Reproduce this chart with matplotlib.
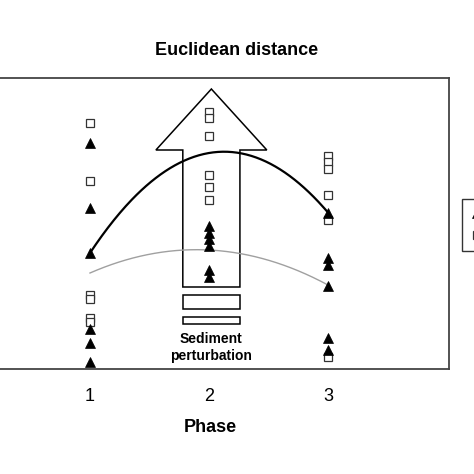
import matplotlib
matplotlib.use("Agg")
import matplotlib.pyplot as plt
import numpy as np
from matplotlib.patches import Polygon, Rectangle

plt.rcParams['font.family'] = ['Liberation Sans', 'DejaVu Sans']

# ---- data ----
phases = [1, 2, 3]
phase_labels = ["1", "2", "3"]

sq_phase1 = [24.6, 18.8, 7.4, 7.0, 5.1, 4.7]
sq_phase2 = [25.75, 25.1, 23.35, 19.4, 18.2, 16.9]
sq_phase3 = [21.35, 20.7, 20.0, 17.4, 14.9, 1.25]

tri_phase1 = [22.6, 16.1, 11.6, 4.0, 2.6, 0.7]
tri_phase2 = [14.3, 13.65, 13.0, 12.35, 9.9, 9.25]
tri_phase3 = [15.65, 11.1, 10.45, 8.3, 3.15, 1.95]

black_curve = [11.6, 21.6, 15.65]
gray_curve = [9.6, 11.9, 8.4]

# legend labels are cropped away in the reference picture
legend_labels = [" ", " "]

# ---- figure ----
W = H = 474
fig = plt.figure(figsize=(4.74, 4.74), dpi=100)
fig.patch.set_facecolor('white')

# axes box (left edge lies outside the cropped picture)
left_px, right_px, top_px, bot_px = -29, 449, 78, 369
ax = fig.add_axes([left_px / W, 1 - bot_px / H, (right_px - left_px) / W, (bot_px - top_px) / H])
ax.set_xlim(0, 4.017)
ax.set_ylim(0, 29.1)

frame_col = '#444444'
for s in ['top', 'bottom', 'right', 'left']:
    ax.spines[s].set_color(frame_col)
    ax.spines[s].set_linewidth(1.3)

ax.set_yticks([])
ax.set_xticks(phases)
ax.set_xticklabels(phase_labels, fontsize=13)
ax.tick_params(axis='x', length=0, pad=14)
ax.set_xlabel("Phase", fontsize=13, fontweight='bold', labelpad=10)

# big arrow
cx = 2.02
shaft_half = 0.24
head_half = 0.466
arrow_pts = [
    (cx - shaft_half, 8.2), (cx + shaft_half, 8.2),
    (cx + shaft_half, 21.9), (cx + head_half, 21.9),
    (cx, 28.0),
    (cx - head_half, 21.9), (cx - shaft_half, 21.9),
]
ax.add_patch(Polygon(arrow_pts, closed=True, facecolor='white', edgecolor='black', lw=1.1, zorder=1))
ax.add_patch(Rectangle((cx - shaft_half, 6.0), 2 * shaft_half, 1.4, facecolor='white', edgecolor='black', lw=1.1, zorder=1))
ax.add_patch(Rectangle((cx - shaft_half, 4.5), 2 * shaft_half, 0.75, facecolor='white', edgecolor='black', lw=1.1, zorder=1))
ax.text(cx, 2.15, "Sediment\nperturbation", ha='center', va='center', fontsize=10,
        fontweight='bold', linespacing=1.2, zorder=3)

# fitted curves
xs = np.linspace(1, 3, 200)
cb = np.polyfit(phases, black_curve, 2)
cg = np.polyfit(phases, gray_curve, 2)
ax.plot(xs, np.polyval(cg, xs), color='#a0a0a0', lw=1.0, zorder=2)
ax.plot(xs, np.polyval(cb, xs), color='black', lw=1.6, zorder=2)

# points
sq_kw = dict(linestyle='none', marker='s', markersize=5.6, markerfacecolor='white',
             markeredgecolor='#333333', markeredgewidth=0.9, zorder=4)
tri_kw = dict(linestyle='none', marker='^', markersize=6.5, markerfacecolor='black',
              markeredgecolor='black', markeredgewidth=0.5, zorder=5)

for p, sq in zip(phases, [sq_phase1, sq_phase2, sq_phase3]):
    h_sq, = ax.plot([p] * len(sq), sq, **sq_kw)
for p, tr in zip(phases, [tri_phase1, tri_phase2, tri_phase3]):
    h_tri, = ax.plot([p] * len(tr), tr, **tri_kw)

# title centred on the figure
fig.text(0.5, 1 - 55 / H, "Euclidean distance", ha='center', va='baseline',
         fontsize=13, fontweight='bold')

# legend (mostly outside the picture)
leg = fig.legend([h_tri, h_sq], legend_labels, loc='upper left',
                 bbox_to_anchor=(462 / W, 1 - 199 / H), bbox_transform=fig.transFigure,
                 fontsize=10, handlelength=1.0, handletextpad=0.5, borderpad=0.55,
                 labelspacing=0.6, borderaxespad=0, fancybox=False, framealpha=1)
leg.get_frame().set_edgecolor('#333333')
leg.get_frame().set_linewidth(1.0)

fig.savefig("out.png", dpi=100, facecolor='white')
